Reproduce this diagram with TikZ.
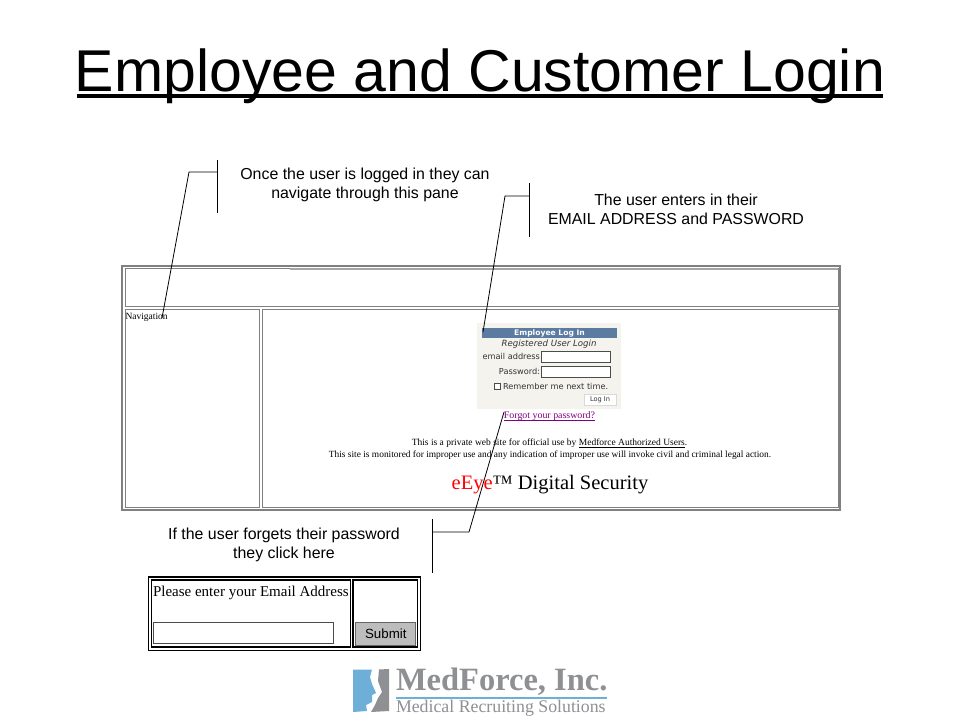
\documentclass[tikz,border=0pt]{standalone}
\usepackage{fontspec}
\setmainfont{Liberation Sans}
\newfontfamily\webfont{Liberation Serif}
\newfontfamily\formfont{DejaVu Sans}
\definecolor{cellgray}{HTML}{808080}
\definecolor{loginbg}{HTML}{F5F3EE}
\definecolor{loginbar}{HTML}{5B7BA0}
\definecolor{linkpurple}{HTML}{800080}
\definecolor{logoblue}{HTML}{6DAFD7}
\definecolor{logogray}{HTML}{8E9094}
\definecolor{submitgray}{HTML}{BDBDBD}
\tikzset{
  every node/.style={inner sep=0pt,outer sep=0pt},
  callout/.style={align=center,font=\fontsize{15.9}{19}\selectfont},
  leader/.style={black,line width=0.8pt},
  webcell/.style={draw=cellgray,line width=1pt},
  webouter/.style={draw=cellgray,line width=1.2pt},
  blackcell/.style={draw=black,line width=1.2pt},
  fieldbox/.style={draw=black!70,fill=white,line width=0.8pt},
  weblabel/.style={font=\webfont\fontsize{9.5}{11}\selectfont},
  formlabel/.style={font=\formfont\fontsize{8.2}{10}\selectfont,text=black!80},
}
\begin{document}
\begin{tikzpicture}[x=1pt,y=-1pt]
\useasboundingbox (0,0) rectangle (960,720);
\fill [white] (0,0) rectangle (960,720);
% title
\node [font=\fontsize{59}{70}\selectfont] (title) at (480,76) {Employee and Customer Login};
\coordinate (ruleleft) at (77,96);
\coordinate (ruleright) at (883,96);
\draw [black,line width=3.2pt] (ruleleft) -- (ruleright);
% web page table
\node [webouter,minimum width=718,minimum height=244] (page) at (481,388) {};
\node [webcell,minimum width=713,minimum height=38] (banner) at (481.5,287.5) {};
\node [webcell,minimum width=134,minimum height=198] (navcell) at (192,408) {};
\node [webcell,minimum width=576,minimum height=198] (maincell) at (550,408) {};
\coordinate (bannerfrom) at (290,269);
\coordinate (bannerto) at (838,269);
\draw [cellgray!70,line width=1.2pt] (bannerfrom) -- (bannerto);
\node [weblabel,anchor=west] (navlabel) at (125.5,317) {Navigation};
% login box
\node [fill=loginbg,minimum width=144,minimum height=86] (login) at (549,366) {};
\node [fill=loginbar,minimum width=135,minimum height=10,text=white,font=\formfont\bfseries\fontsize{7.6}{9}\selectfont] (loginbar) at (549.5,333) {Employee Log In};
\node [formlabel,font=\formfont\itshape\fontsize{8.6}{10}\selectfont] (registered) at (549,344.5) {Registered User Login};
\node [fieldbox,minimum width=69,minimum height=11] (emailfield) at (575.5,356.5) {};
\node [fieldbox,minimum width=69,minimum height=11] (passfield) at (575.5,371.5) {};
\node [formlabel,anchor=east] (emaillabel) at (540,356.5) {email address};
\node [formlabel,anchor=east] (passlabel) at (540,371.5) {Password:};
\node [fieldbox,minimum width=6,minimum height=6] (remember) at (497,386) {};
\node [formlabel,anchor=west] (rememberlabel) at (503,386.5) {Remember me next time.};
\node [draw=black!15,fill=white,minimum width=32,minimum height=11,formlabel,font=\formfont\fontsize{6.6}{8}\selectfont] (loginbutton) at (600,399.5) {Log In};
\node [weblabel,font=\webfont\fontsize{9.9}{11}\selectfont,text=linkpurple,anchor=base] (forgot) at (549.5,418.5) {\underline{\smash{Forgot your password?}}};
\node [weblabel,anchor=base] (privateline) at (549.5,445.5) {This is a private web site for official use by \underline{\smash{Medforce Authorized Users}}.};
\node [weblabel,font=\webfont\fontsize{9.4}{11}\selectfont] (monitorline) at (550,455) {This site is monitored for improper use and any indication of improper use will invoke civil and criminal legal action.};
\node [font=\webfont\fontsize{20.5}{24}\selectfont] (eeye) at (550,485) {\textcolor{red}{eEye}™ Digital Security};
% callouts
\node [callout] (oncetext) at (365,185) {Once the user is logged in they can\\navigate through this pane};
\coordinate (oncetop) at (217,160);
\coordinate (oncebottom) at (217,213);
\coordinate (oncejoin) at (217,172);
\coordinate (oncebend) at (189,172);
\coordinate (onceend) at (162,318);
\draw [leader] (oncetop) -- (oncebottom);
\draw [leader] (oncejoin) -- (oncebend) -- (onceend);
\node [callout] (enterstext) at (676,209) {The user enters in their\\EMAIL ADDRESS and PASSWORD};
\coordinate (enterstop) at (529,183);
\coordinate (entersbottom) at (529,237);
\coordinate (entersjoin) at (529,196);
\coordinate (entersbend) at (505,196);
\coordinate (entersend) at (483,332);
\draw [leader] (enterstop) -- (entersbottom);
\draw [leader] (entersjoin) -- (entersbend) -- (entersend);
\node [callout] (forgetstext) at (284,545) {If the user forgets their password\\they click here};
\coordinate (forgetstop) at (432,519);
\coordinate (forgetsbottom) at (432,573);
\coordinate (forgetsjoin) at (432,532);
\coordinate (forgetsbend) at (469,532);
\coordinate (forgetsend) at (504,412);
\draw [leader] (forgetstop) -- (forgetsbottom);
\draw [leader] (forgetsjoin) -- (forgetsbend) -- (forgetsend);
% email form
\node [blackcell,minimum width=272,minimum height=73.5] (emailform) at (284.3,613.8) {};
\node [blackcell,minimum width=199.5,minimum height=67] (emailcell) at (251,613.5) {};
\node [blackcell,minimum width=64.5,minimum height=67] (submitcell) at (385.3,613.5) {};
\node [font=\webfont\fontsize{15}{17}\selectfont,anchor=west] (emailprompt) at (153,593) {Please enter your Email Address};
\node [draw=black!70,line width=1pt,fill=white,minimum width=180,minimum height=21] (emailinput) at (243.7,632.5) {};
\node [draw=black!60,fill=submitgray,line width=0.8pt,minimum width=60,minimum height=23,font=\fontsize{13.3}{16}\selectfont] (submit) at (385.8,633.5) {Submit};
% logo
\fill [logoblue] (353,669.5) -- (372,669.5) -- (370,677) -- (372,684) -- (376,693) -- (372,695) -- (372,702) -- (366,705) -- (367,711) -- (353,712) -- cycle;
\fill [logogray] (379,669.5) -- (389,669) -- (389,711) -- (371,712) -- (375,705) -- (378,698) -- (382,692) -- (378,681) -- cycle;
\node [font=\webfont\bfseries\fontsize{32.5}{36}\selectfont,text=logogray,anchor=west] (logoname) at (396,682) {MedForce, Inc.};
\node [fill=logoblue,minimum width=211,minimum height=2.6] (logorule) at (501.5,698) {};
\node [font=\webfont\fontsize{17.8}{20}\selectfont,text=logogray,anchor=west] (logotag) at (396,708.5) {Medical Recruiting Solutions};
\end{tikzpicture}
\end{document}
